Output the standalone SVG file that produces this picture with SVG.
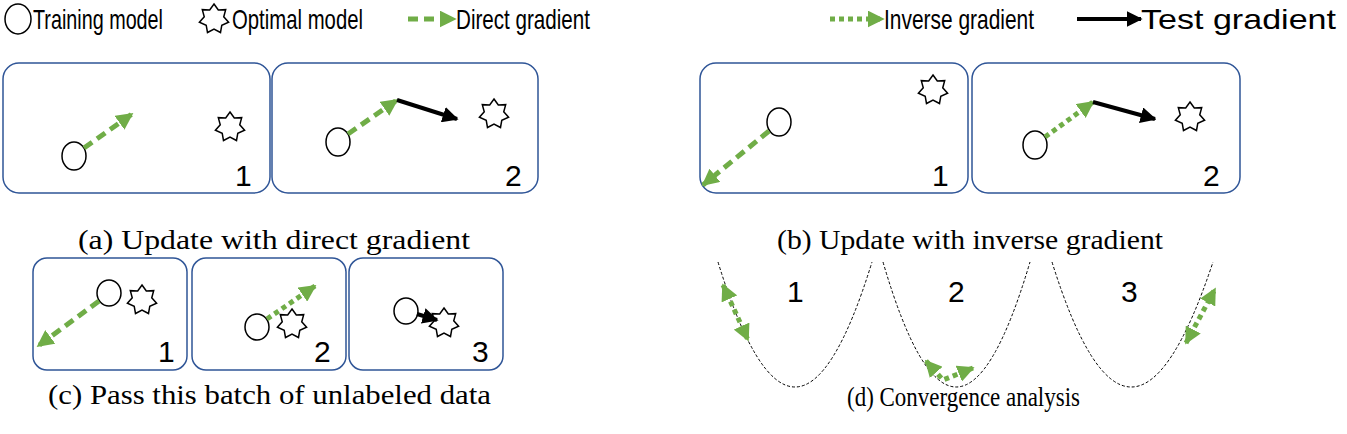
<svg xmlns="http://www.w3.org/2000/svg" width="1347" height="434" viewBox="0 0 1347 434">
<style>
.box{fill:#fff;stroke:#2F5597;stroke-width:1.5}
.m{fill:#fff;stroke:#000;stroke-width:1.5}
.lab{font-family:"Liberation Sans",Arial,sans-serif;font-size:28px;fill:#000}
.num{font-family:"Liberation Sans",Arial,sans-serif;font-size:30px;fill:#000}
.cap{font-family:"Liberation Serif","Times New Roman",serif;font-size:27px;fill:#000}
.dir{stroke:#70AD47;stroke-width:5;stroke-dasharray:10 6;fill:none;marker-end:url(#g)}
.inv{stroke:#70AD47;stroke-width:5;stroke-dasharray:5 4;fill:none;marker-end:url(#g)}
.tst{stroke:#000;stroke-width:4;fill:none;marker-end:url(#k)}
.par{fill:none;stroke:#000;stroke-width:1;stroke-dasharray:3 2}
</style>
<defs>
<marker id="g" viewBox="0 0 10 10" refX="9" refY="5" markerWidth="17" markerHeight="17" markerUnits="userSpaceOnUse" orient="auto-start-reverse"><path d="M0,0L10,5L0,10Z" fill="#70AD47"/></marker>
<marker id="k" viewBox="0 0 10 10" refX="9" refY="5" markerWidth="16" markerHeight="16" markerUnits="userSpaceOnUse" orient="auto"><path d="M0,0L10,5L0,10Z" fill="#000"/></marker>
<path id="star" class="m" d="M0,-15L4.3,-9L11.7,-9.35L9.75,-2.2L14.6,3.3L7.8,6.2L6.5,13.5L0,10L-6.5,13.5L-7.8,6.2L-14.6,3.3L-9.75,-2.2L-11.7,-9.350L-4.3,-9Z"/>
</defs>
<g id="legend">
<ellipse class="m" cx="18" cy="19" rx="13" ry="15"/>
<text class="lab" x="33" y="29" textLength="130" lengthAdjust="spacingAndGlyphs">Training model</text>
<use href="#star" x="214" y="19"/>
<text class="lab" x="232" y="29" textLength="131" lengthAdjust="spacingAndGlyphs">Optimal model</text>
<line class="dir" x1="408" y1="19" x2="455" y2="19"/>
<text class="lab" x="456" y="29" textLength="134" lengthAdjust="spacingAndGlyphs">Direct gradient</text>
<line class="inv" x1="830" y1="19" x2="883" y2="19"/>
<text class="lab" x="884" y="29" textLength="150" lengthAdjust="spacingAndGlyphs">Inverse gradient</text>
<line class="tst" x1="1077" y1="19" x2="1141" y2="19"/>
<text class="lab" x="1141" y="29" textLength="195" lengthAdjust="spacingAndGlyphs">Test gradient</text>
</g>
<g id="panel-a">
<rect class="box" x="3" y="63" width="267" height="130" rx="16"/>
<rect class="box" x="272" y="63" width="266" height="130" rx="16"/>
<ellipse class="m" cx="74" cy="156" rx="12" ry="14"/>
<use href="#star" x="230" y="127"/>
<text class="num" x="235" y="186">1</text>
<ellipse class="m" cx="338" cy="142" rx="12" ry="14"/>
<use href="#star" x="494" y="114"/>
<text class="num" x="505" y="186">2</text>
<text class="cap" x="78" y="249" textLength="392" lengthAdjust="spacingAndGlyphs">(a) Update with direct gradient</text>
</g>
<g id="panel-b">
<rect class="box" x="700" y="63" width="268" height="130" rx="16"/>
<rect class="box" x="972" y="63" width="268" height="130" rx="16"/>
<ellipse class="m" cx="779" cy="122" rx="12" ry="14"/>
<use href="#star" x="933" y="90"/>
<text class="num" x="932" y="186">1</text>
<ellipse class="m" cx="1035" cy="145" rx="12" ry="14"/>
<use href="#star" x="1190" y="117"/>
<text class="num" x="1203" y="186">2</text>
<text class="cap" x="777" y="249" textLength="386" lengthAdjust="spacingAndGlyphs">(b) Update with inverse gradient</text>
</g>
<g id="panel-c">
<rect class="box" x="33" y="258" width="154" height="112" rx="14"/>
<rect class="box" x="192" y="258" width="154" height="112" rx="14"/>
<rect class="box" x="349" y="258" width="154" height="112" rx="14"/>
<ellipse class="m" cx="109" cy="293" rx="12" ry="13"/>
<use href="#star" x="142" y="300"/>
<text class="num" x="158" y="362">1</text>
<ellipse class="m" cx="257" cy="327" rx="12" ry="13"/>
<use href="#star" x="292" y="324"/>
<text class="num" x="314" y="362">2</text>
<ellipse class="m" cx="406" cy="311" rx="12" ry="13"/>
<use href="#star" x="444" y="323"/>
<text class="num" x="472" y="362">3</text>
<text class="cap" x="48" y="404" textLength="443" lengthAdjust="spacingAndGlyphs">(c) Pass this batch of unlabeled data</text>
</g>
<g id="panel-d">
<path class="par" d="M718,262Q795,512 872,262"/>
<path class="par" d="M883,262Q956,512 1030,262"/>
<path class="par" d="M1052,262Q1130,512 1213,262"/>
<text class="num" x="787" y="302">1</text>
<text class="num" x="948" y="302">2</text>
<text class="num" x="1121" y="302">3</text>
<text class="cap" x="847" y="406" textLength="233" lengthAdjust="spacingAndGlyphs">(d) Convergence analysis</text>
</g>
<g id="connectors">
<line class="dir" x1="84" y1="148" x2="132" y2="114"/>
<line class="dir" x1="348" y1="134" x2="397" y2="100"/>
<line class="tst" x1="397" y1="100" x2="457" y2="119"/>
<line class="dir" x1="769" y1="131" x2="703" y2="185"/>
<line class="inv" x1="1045" y1="137" x2="1093" y2="102"/>
<line class="tst" x1="1093" y1="102" x2="1155" y2="119"/>
<line class="dir" x1="99" y1="301" x2="38" y2="346"/>
<line class="inv" x1="267" y1="319" x2="315" y2="286"/>
<line class="tst" x1="417" y1="314" x2="437" y2="320"/>
<line class="inv" style="marker-start:url(#g)" x1="723" y1="285" x2="748" y2="340"/>
<polyline class="inv" style="marker-start:url(#g)" points="926,361 943,380 973,368"/>
<line class="inv" style="marker-start:url(#g)" x1="1186" y1="343" x2="1215" y2="289"/>
</g>
</svg>
